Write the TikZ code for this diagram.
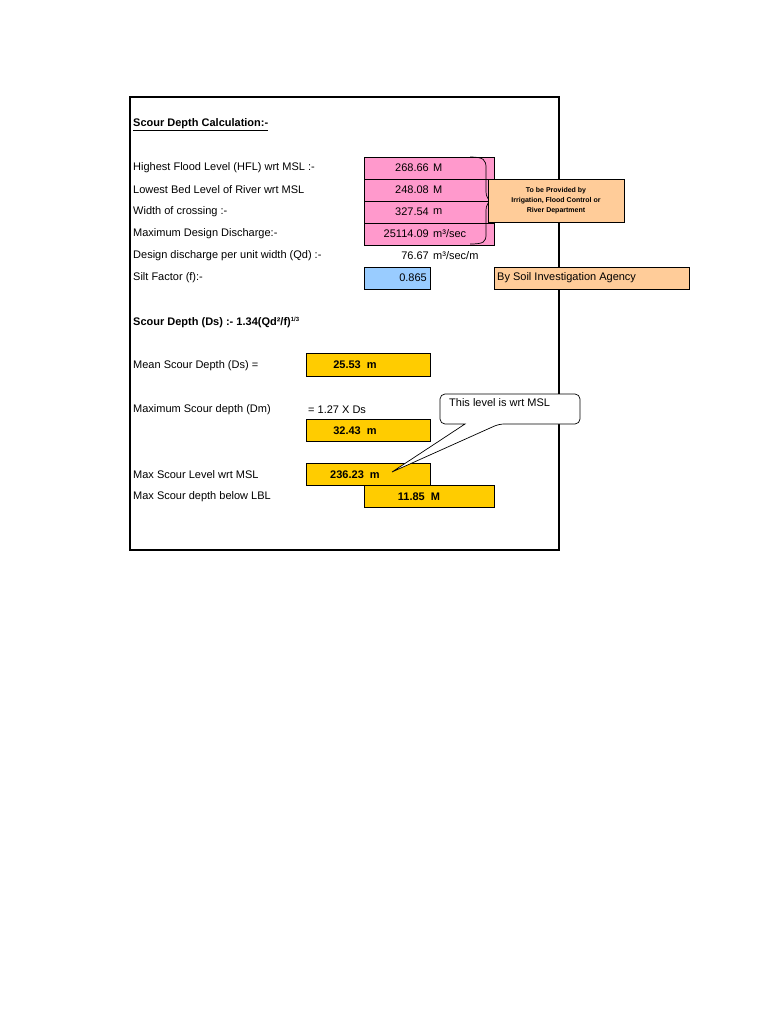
\documentclass[tikz,border=0pt]{standalone}
\usepackage{fontspec}
\setmainfont{Liberation Sans}
\usetikzlibrary{shapes.callouts}
\definecolor{pinkc}{HTML}{FF99CC}
\definecolor{bluec}{HTML}{99CCFF}
\definecolor{orc}{HTML}{FFCC99}
\definecolor{goldc}{HTML}{FFCC00}
\begin{document}
\begin{tikzpicture}[x=1pt,y=-1pt,
  lbl/.style={anchor=west,inner sep=0pt,font=\fontsize{11}{13}\selectfont},
  num/.style={anchor=east,inner sep=0pt,font=\fontsize{11}{13}\selectfont},
  unit/.style={anchor=west,inner sep=0pt,font=\fontsize{11}{13}\selectfont},
  cell/.style={draw=black,line width=0.8pt},
  bval/.style={inner sep=0pt,font=\bfseries\fontsize{11}{13}\selectfont}]
\useasboundingbox (0,0) rectangle (768,1024);
\draw[line width=1.6pt] (130,97) rectangle (559,550);
\node[lbl,font=\bfseries\fontsize{11}{13}\selectfont] (title) at (133,125) {\underline{Scour Depth Calculation:-}};
% pink cells
\foreach \y in {157,179,201,223}{\draw[cell,fill=pinkc] (364,\y) rectangle (494,\y+22);}
\draw[cell,fill=bluec] (364,267) rectangle (430,289);
\node[lbl] (l1) at (133,168) {Highest Flood Level (HFL) wrt MSL :-};
\node[lbl] (l2) at (133,190) {Lowest Bed Level of River wrt MSL};
\node[lbl] (l3) at (133,212) {Width of crossing :-};
\node[lbl] (l4) at (133,234) {Maximum Design Discharge:-};
\node[lbl] (l5) at (133,256) {Design discharge per unit width (Qd) :-};
\node[lbl] (l6) at (133,278) {Silt Factor (f):-};
\node[num] (v1) at (429,168) {268.66}; \node[unit] (u1) at (433,168) {M};
\node[num] (v2) at (429,190) {248.08}; \node[unit] (u2) at (433,190) {M};
\node[num] (v3) at (429,212) {327.54}; \node[unit] (u3) at (433,212) {m};
\node[num] (v4) at (429,234) {25114.09}; \node[unit] (u4) at (433,234) {m³/sec};
\node[num] (v5) at (429,256) {76.67}; \node[unit] (u5) at (433,256) {m³/sec/m};
\node[num] (v6) at (427,278) {0.865};
% brace
\draw[line width=0.7pt] (470,157) .. controls (484,157) and (486,160) .. (486,168) -- (486,190) .. controls (486,198) and (488,200) .. (493,201) .. controls (488,202) and (486,204) .. (486,212) -- (486,234) .. controls (486,242) and (484,244) .. (470,244);
\draw[cell,fill=orc] (488,179) rectangle (624,222);
\node[align=center,inner sep=0pt,font=\bfseries\fontsize{7}{10}\selectfont] (prov) at (556,200.5) {To be Provided by\\Irrigation, Flood Control or\\River Department};
\draw[cell,fill=orc] (494,267) rectangle (689,289);
\node[lbl] (soil) at (497,278) {By Soil Investigation Agency};
% scour
\node[lbl,font=\bfseries\fontsize{11}{13}\selectfont] (f) at (133,322) {Scour Depth (Ds) :- 1.34(Qd²/f)\textsuperscript{\fontsize{6}{6}\selectfont 1/3}};
\node[lbl] (m1) at (133,366) {Mean Scour Depth (Ds) =};
\draw[cell,fill=goldc] (306,353) rectangle (430,376);
\node[bval] (b1) at (355,365) {25.53\ \ m};
\node[lbl] (m2) at (133,410) {Maximum Scour depth (Dm)};
\node[lbl] (m2b) at (308,410) {= 1.27 X Ds};
\draw[cell,fill=goldc] (306,419) rectangle (430,441);
\node[bval] (b2) at (355,431) {32.43\ \ m};
\node[lbl] (m3) at (133,475) {Max Scour Level wrt MSL};
\draw[cell,fill=goldc] (306,463) rectangle (430,485);
\node[bval] (b3) at (355,475) {236.23\ \ m};
\node[lbl] (m4) at (133,497) {Max Scour depth below LBL};
\draw[cell,fill=goldc] (364,485) rectangle (494,507);
\node[bval] (b4) at (419,497) {11.85\ \ M};
% callout
\coordinate (tip) at (392,472);
\draw[line width=0.7pt,fill=white,rounded corners=5pt] (440,394) -- (580,394) -- (580,424) -- (499,424) [sharp corners]-- (tip) -- (465,424) [rounded corners=5pt]-- (440,424) -- cycle;
\node[lbl] (c) at (449,403) {This level is wrt MSL};
\end{tikzpicture}
\end{document}
